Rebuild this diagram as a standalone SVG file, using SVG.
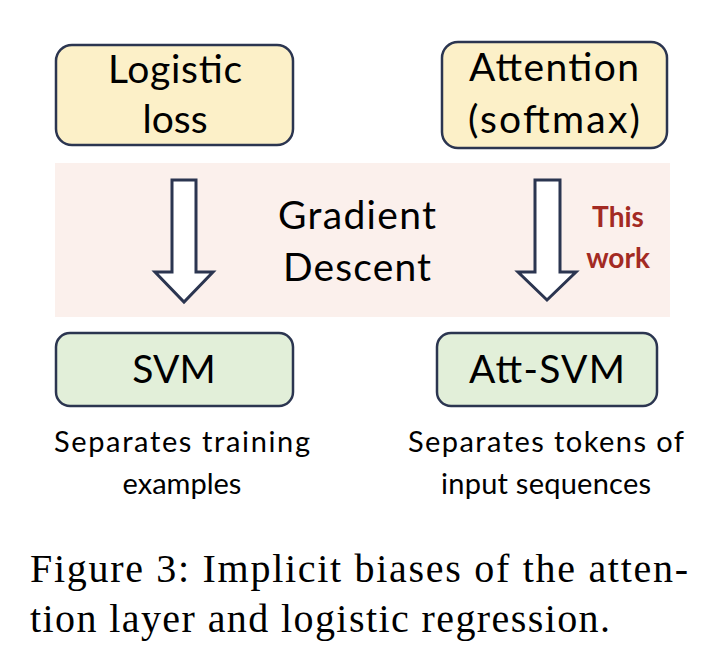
<svg xmlns="http://www.w3.org/2000/svg" width="712" height="660" viewBox="0 0 712 660">
<style>
.top{fill:#fcf0c8;stroke:#2b3550;stroke-width:2.5}
.bot{fill:#e2efd9;stroke:#2b3550;stroke-width:2.5}
.t{font-family:Lato,"Open Sans",sans-serif;fill:#000;text-anchor:middle}
.big{font-size:39px}
.sm{font-size:29px}
.arr{fill:#fff;stroke:#2b3550;stroke-width:3;stroke-linejoin:miter}
.cap{font-family:"Liberation Serif",serif;font-size:40px;fill:#000}
</style>
<rect width="712" height="660" fill="#fff"/>
<rect x="55" y="163" width="615" height="154" fill="#fbf0ec"/>
<g id="logistic"><rect class="top" x="56" y="45" width="237" height="100" rx="16"/>
<text class="t big" x="175" y="83" textLength="134">Logistic</text><text class="t big" x="175" y="133">loss</text></g>
<g id="attention"><rect class="top" x="442" y="42" width="225" height="106" rx="16"/>
<text class="t big" x="554" y="81" textLength="170">Attention</text><text class="t big" x="554" y="133" textLength="172">(softmax)</text></g>
<g id="connectors">
<path class="arr" d="M172,180 H196 V272 H213 L184,302 L155,272 H172 Z"/>
<path class="arr" d="M535,180 H560 V272 H576 L547,300 L518,272 H535 Z"/>
</g>
<g id="gd"><text class="t big" x="357" y="229" textLength="158">Gradient</text><text class="t big" x="357" y="281" textLength="148">Descent</text></g>
<g id="thiswork"><text class="t" x="618" y="227" font-size="28" font-weight="bold" style="fill:#a32a23">This</text>
<text class="t" x="618" y="268" font-size="28" font-weight="bold" style="fill:#a32a23">work</text></g>
<g id="svm"><rect class="bot" x="56" y="333" width="237" height="73" rx="14"/>
<text class="t big" x="174" y="383">SVM</text>
<text class="t sm" x="182" y="452" textLength="256">Separates training</text><text class="t sm" x="182" y="494">examples</text></g>
<g id="attsvm"><rect class="bot" x="437" y="333" width="220" height="73" rx="14"/>
<text class="t big" x="547" y="383" textLength="156">Att-SVM</text>
<text class="t sm" x="546" y="452" textLength="276">Separates tokens of</text><text class="t sm" x="546" y="494" textLength="210">input sequences</text></g>
<text class="cap" x="30" y="582" textLength="658">Figure 3: Implicit biases of the atten-</text>
<text class="cap" x="30" y="632" textLength="580">tion layer and logistic regression.</text>
</svg>
